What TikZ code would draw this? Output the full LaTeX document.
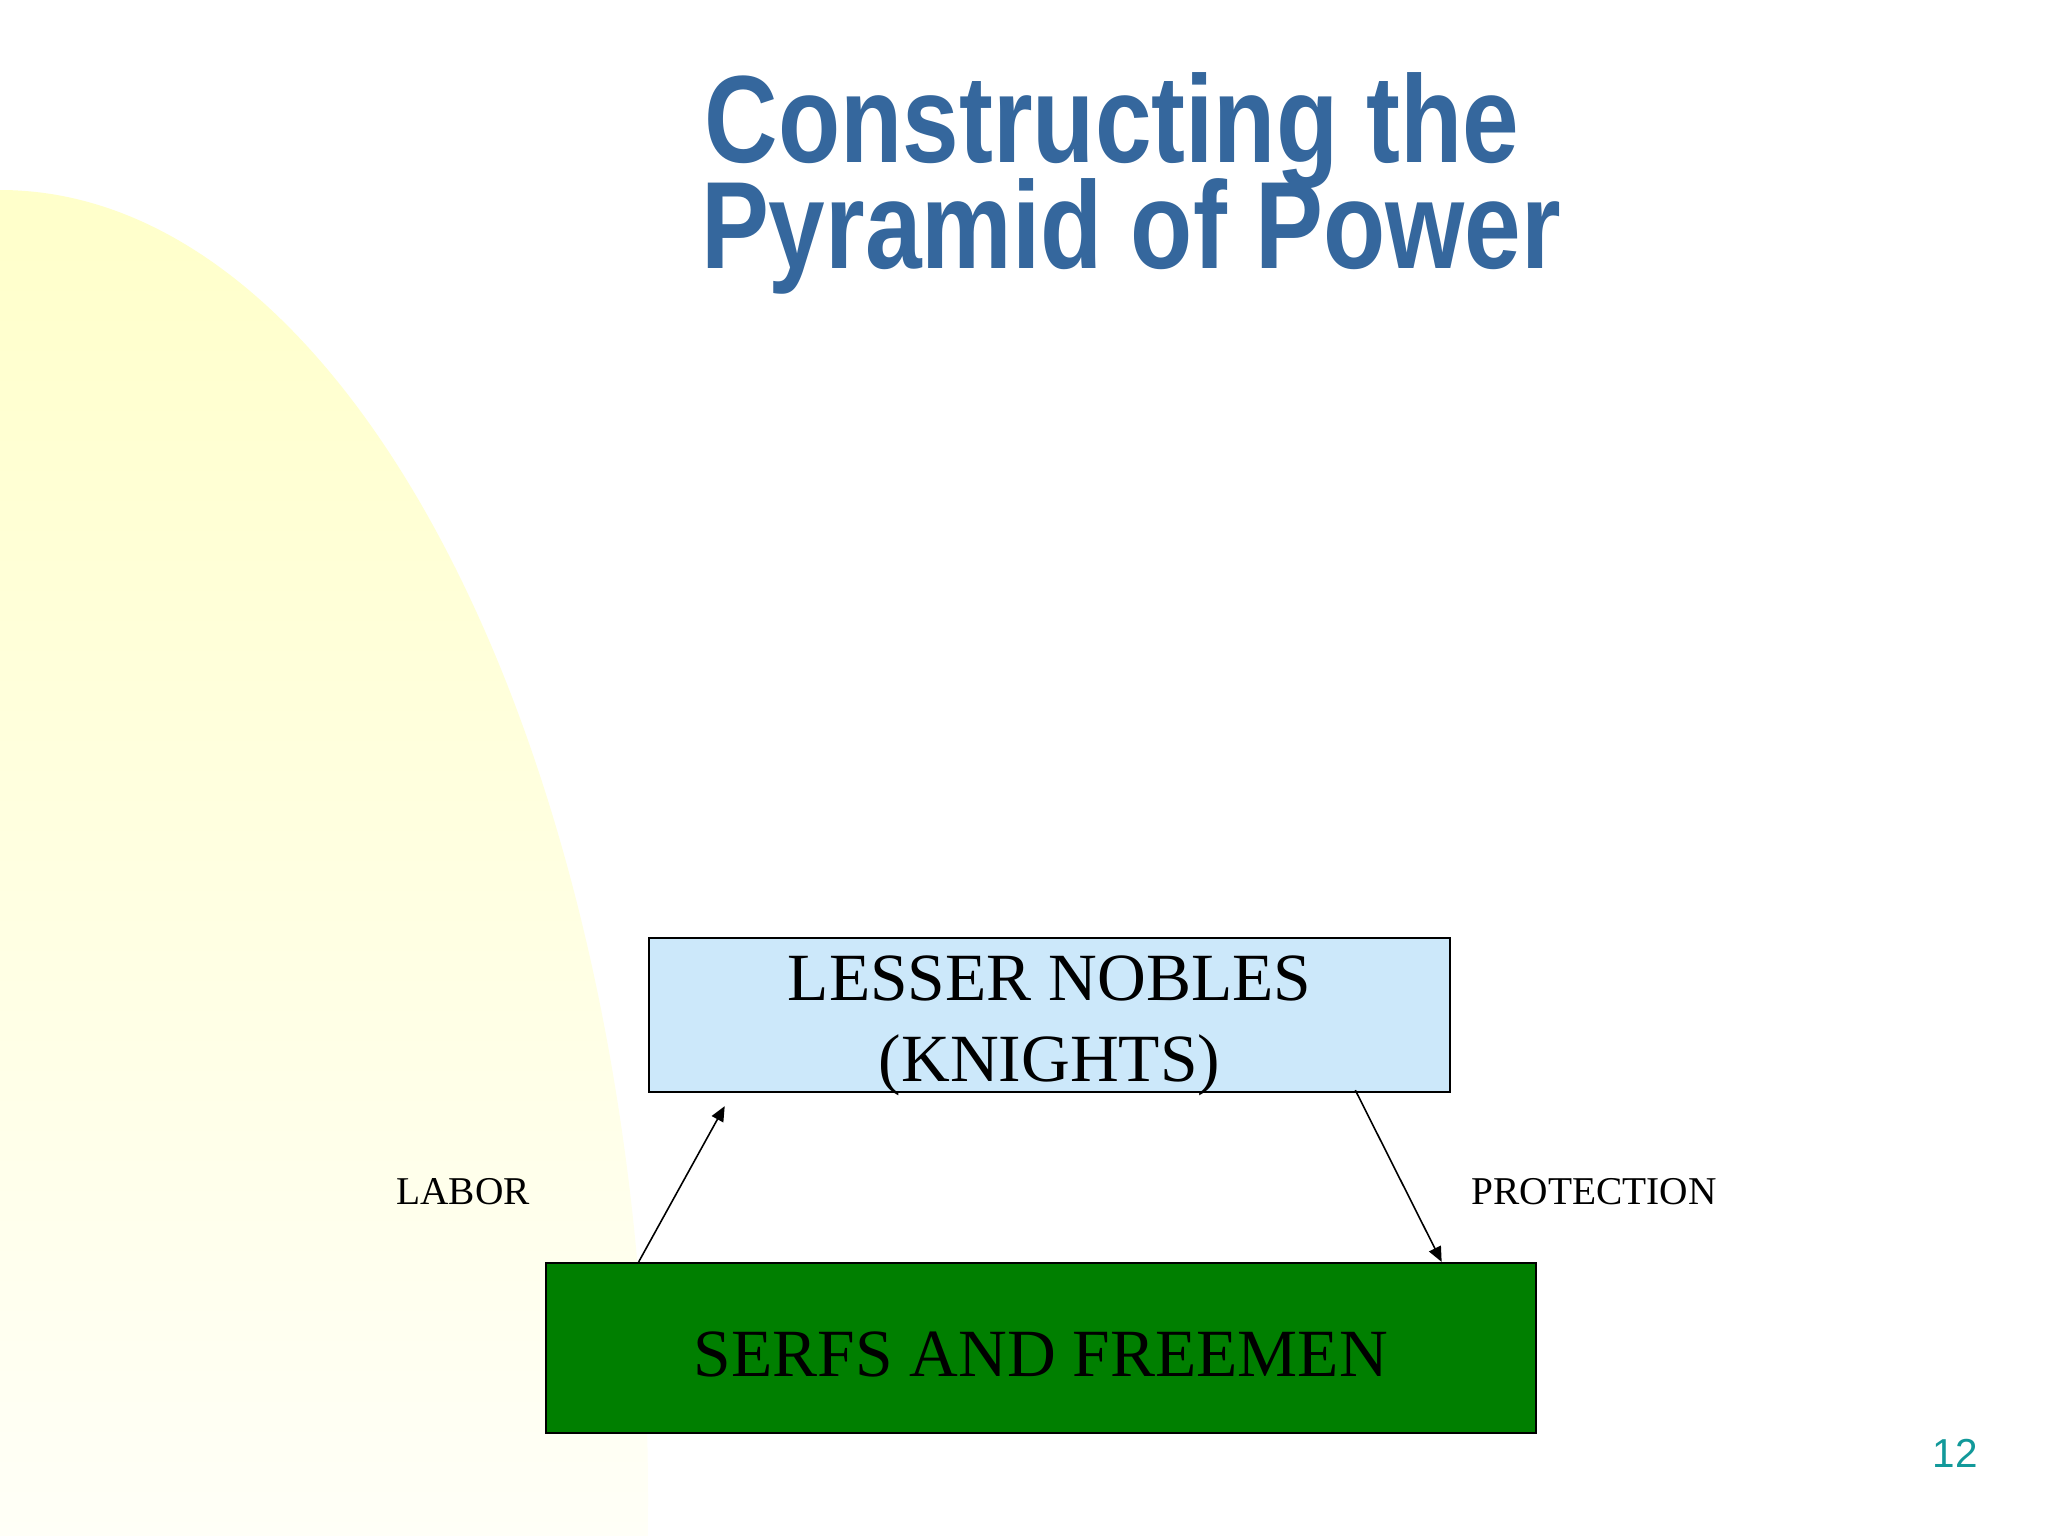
\documentclass[tikz,border=0pt]{standalone}
\usepackage{fontspec}
\setmainfont{Liberation Serif}
\newfontfamily\titlefont{Liberation Sans}[FakeStretch=0.82]
\newfontfamily\pnumfont{Liberation Sans}
\usetikzlibrary{arrows.meta,calc}
\definecolor{titleblue}{HTML}{35679D}
\definecolor{noblefill}{HTML}{CCE8FA}
\definecolor{serffill}{HTML}{007F00}
\definecolor{pnumcol}{HTML}{12999A}
\definecolor{blobtop}{HTML}{FFFFCA}
\definecolor{blobmid}{HTML}{FFFFE0}
\definecolor{blobbot}{HTML}{FFFFF7}
\tikzset{
  titlestyle/.style={inner sep=0pt, text=titleblue, font=\titlefont\bfseries\fontsize{35.3}{40}\selectfont},
  nobbox/.style={draw=black, line width=0.6pt, fill=noblefill, minimum width=8.01cm, minimum height=1.54cm, inner sep=0pt},
  serfbox/.style={draw=black, line width=0.6pt, fill=serffill, minimum width=9.90cm, minimum height=1.70cm, inner sep=0pt},
  boxtext/.style={inner sep=0pt, text=black, font=\fontsize{19.2}{23}\selectfont},
  lbl/.style={inner sep=0pt, text=black, font=\fontsize{11.2}{13}\selectfont},
  pnum/.style={inner sep=0pt, text=pnumcol, font=\pnumfont\fontsize{11.5}{13}\selectfont},
  conn/.style={draw=black, line width=0.45pt, -{Triangle[length=0.15cm, width=0.13cm]}}
}
\begin{document}
\begin{tikzpicture}[x=0.01cm, y=-0.01cm]
\useasboundingbox (0,0) rectangle (2048,1536);
\fill[white] (0,0) rectangle (2048,1536);
% yellow background blob
\begin{scope}
  \clip (0,1500) ellipse [x radius=648, y radius=1310];
  \shade[top color=blobtop, middle color=blobmid, bottom color=blobbot] (0,185) rectangle (700,1536);
\end{scope}
% title
\node[titlestyle, anchor=base] (t1) at (1112,162) {Constructing the};
\node[titlestyle, anchor=base] (t2) at (1131,268) {Pyramid of Power};
% boxes
\node[nobbox] (nobles) at (1049.5,1015) {};
\node[boxtext, anchor=base] (n1) at ($(nobles.north)+(0,64)$) {LESSER NOBLES};
\node[boxtext, anchor=base] (n2) at ($(nobles.north)+(0,145)$) {(KNIGHTS)};
\node[serfbox] (serfs) at (1041,1348) {};
\node[boxtext, anchor=base] (s1) at ($(serfs.north)+(0,115)$) {SERFS AND FREEMEN};
% labels
\node[lbl, anchor=base] (labor) at (463,1204) {LABOR};
\node[lbl, anchor=base] (prot) at (1594,1204) {PROTECTION};
% connectors
\coordinate (la) at ($(serfs.north west)+(94,0)$);
\coordinate (lb) at ($(nobles.south west)+(77,13)$);
\draw[conn] (la) -- (lb);
\coordinate (ra) at ($(nobles.south east)+(-96,-3)$);
\coordinate (rb) at ($(serfs.north west)+(897,0)$);
\draw[conn] (ra) -- (rb);
% page number
\node[pnum, anchor=base] (pg) at (1955,1467) {12};
\end{tikzpicture}
\end{document}
